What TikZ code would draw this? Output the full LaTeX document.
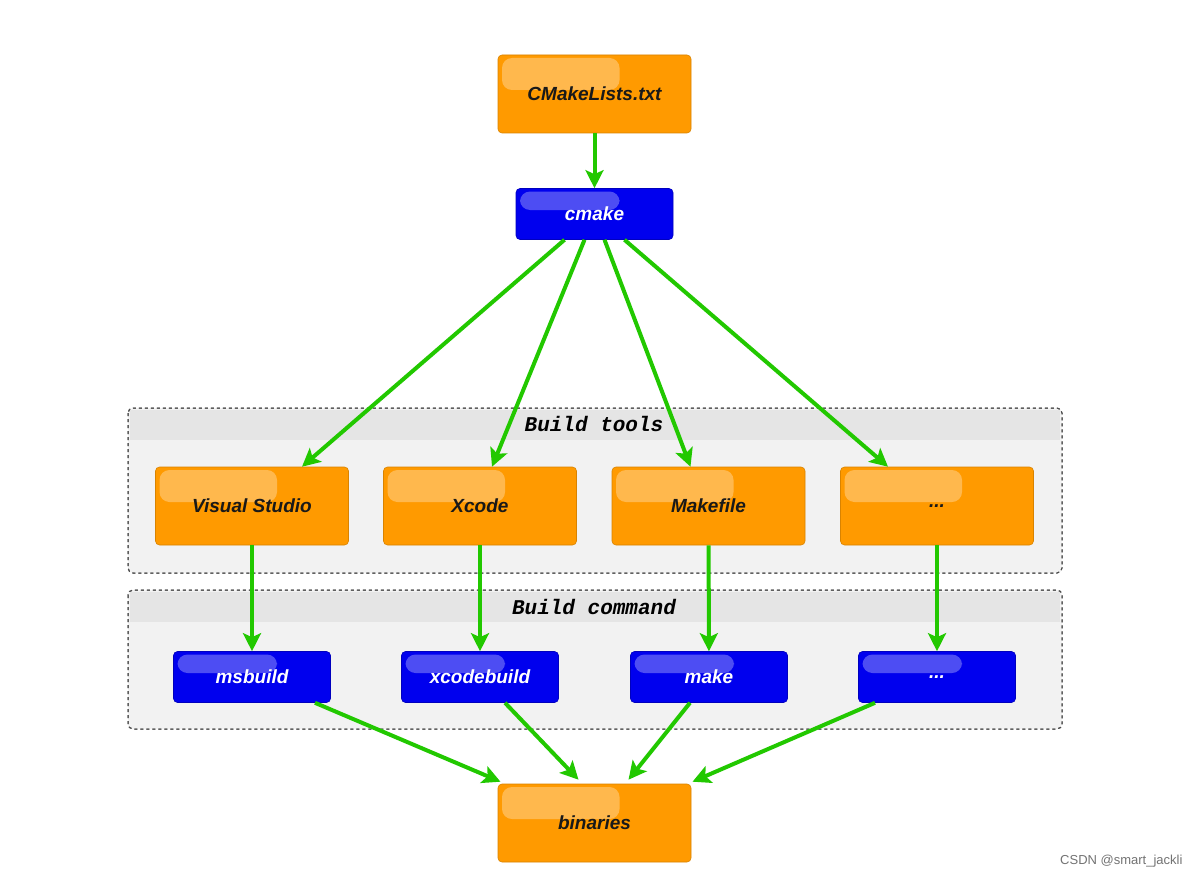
\documentclass[tikz,border=0pt]{standalone}
\usepackage{fontspec}
\setmainfont{Liberation Sans}
\setmonofont{Liberation Mono}
\usetikzlibrary{arrows.meta}
\definecolor{org}{HTML}{FF9A00}
\definecolor{blu}{HTML}{0000EE}
\definecolor{grn}{HTML}{22C800}
\tikzset{
 gloss/.style={path picture={\fill[white,opacity=0.3,rounded corners=10pt]
   ([xshift=4pt,yshift=-3pt]path picture bounding box.north west) rectangle
   ([xshift=25pt,yshift=4pt]path picture bounding box.center);}},
 onode/.style={draw=org!85!black,line width=0.6pt,fill=org,rounded corners=4pt,minimum width=193pt,minimum height=78pt,
   font=\fontsize{19}{22}\selectfont\bfseries\itshape,text=black!90,gloss},
 bnode/.style={draw=blu!80!black,line width=0.6pt,fill=blu,rounded corners=4pt,minimum width=157pt,minimum height=51pt,
   font=\fontsize{19}{22}\selectfont\bfseries\itshape,text=white,gloss},
 grp/.style={draw=black!70,dashed,line width=1pt,fill=black!5,rounded corners=5pt},
 ttl/.style={font=\fontsize{21}{24}\selectfont\ttfamily\bfseries\itshape},
 arr/.style={draw=grn,line width=4pt,-{Stealth[length=18pt,width=18pt,inset=4pt]}},
}
\begin{document}
\begin{tikzpicture}[x=1pt,y=-1pt]
\useasboundingbox[fill=white] (0,0) rectangle (1199,880);
% groups
\draw[grp] (128,408) rectangle (1062,573);
\fill[black!10] (130,410) rectangle (1060,440);
\draw[grp,fill=none] (128,408) rectangle (1062,573);
\node[ttl] (t1) at (594,424) {Build tools};
\draw[grp] (128,590) rectangle (1062,729);
\fill[black!10] (130,592) rectangle (1060,622);
\draw[grp,fill=none] (128,590) rectangle (1062,729);
\node[ttl] (t2) at (594,607) {Build command};
% nodes
\node[onode] (cml) at (594.5,94) {CMakeLists.txt};
\node[bnode] (cm) at (594.5,214) {cmake};
\node[onode] (vs) at (252,506) {Visual Studio};
\node[onode] (xc) at (480,506) {Xcode};
\node[onode] (mf) at (708.5,506) {Makefile};
\node[onode] (od) at (937,506) {...};
\node[bnode] (ms) at (252,677) {msbuild};
\node[bnode] (xb) at (480,677) {xcodebuild};
\node[bnode] (mk) at (709,677) {make};
\node[bnode] (bd) at (937,677) {...};
\node[onode] (bin) at (594.5,823) {binaries};
% arrows
\draw[arr] (cml) -- (cm);
\draw[arr] ([xshift=-30pt]cm.south) -- ([xshift=50pt]vs.north);
\draw[arr] ([xshift=-10pt]cm.south) -- ([xshift=12pt]xc.north);
\draw[arr] ([xshift=10pt]cm.south) -- ([xshift=-18pt]mf.north);
\draw[arr] ([xshift=30pt]cm.south) -- ([xshift=-49pt]od.north);
\draw[arr] (vs) -- (ms);
\draw[arr] (xc) -- (xb);
\draw[arr] (mf) -- (mk);
\draw[arr] (od) -- (bd);
\draw[arr] ([xshift=63pt]ms.south) -- ([xshift=-94pt,yshift=2pt]bin.north);
\draw[arr] ([xshift=25pt]xb.south) -- ([xshift=-16pt,yshift=4pt]bin.north);
\draw[arr] ([xshift=-19pt]mk.south) -- ([xshift=34pt,yshift=4pt]bin.north);
\draw[arr] ([xshift=-62pt]bd.south) -- ([xshift=98pt,yshift=2pt]bin.north);
\node[text=black!55,font=\fontsize{13}{15}\selectfont,anchor=east] (wm) at (1186,861) {CSDN @smart\_jackli};
\end{tikzpicture}
\end{document}
